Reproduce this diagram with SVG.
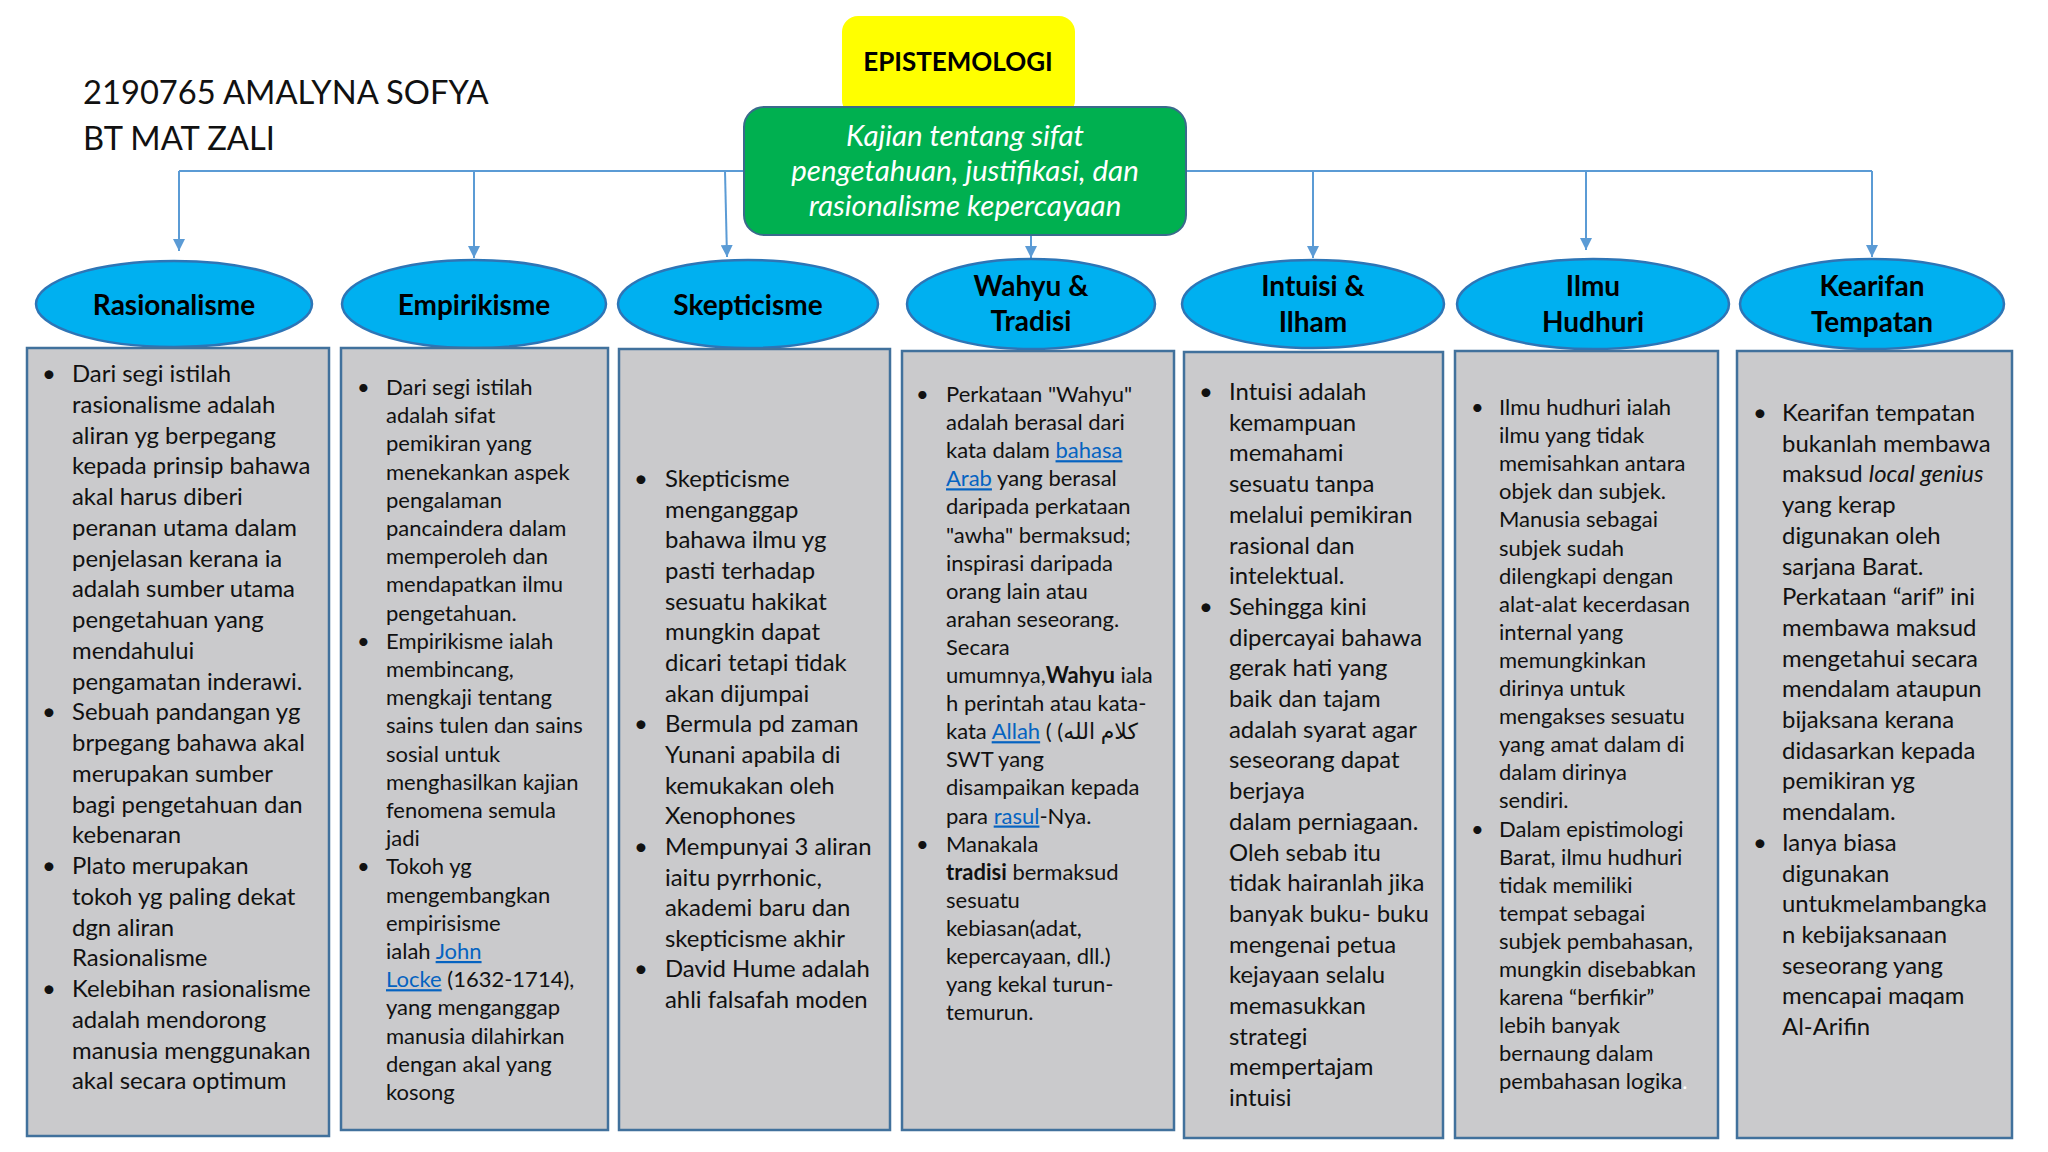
<svg xmlns="http://www.w3.org/2000/svg" width="2048" height="1152" viewBox="0 0 2048 1152">
<defs>
<style>
.t{font-family:Lato,"Liberation Sans","DejaVu Sans",sans-serif;fill:#111;}
.big{font-size:23.9px;}
.sm{font-size:22px;}
.lbl{font-family:Lato,"Liberation Sans",sans-serif;font-weight:bold;font-size:28px;fill:#000;text-anchor:middle;}
.ell{fill:#00B0F0;stroke:#2E75B6;stroke-width:2.5;}
.box{fill:#CACACC;stroke:#41719C;stroke-width:2.5;}
.lnk{fill:#0563C1;text-decoration:underline;}
.con{stroke:#5B9BD5;stroke-width:2;fill:none;}
</style>
<marker id="arr" viewBox="0 0 12 12" refX="12" refY="6" markerWidth="12" markerHeight="12" orient="auto" markerUnits="userSpaceOnUse"><path d="M0,0 L12,6 L0,12 z" fill="#5B9BD5"/></marker>
</defs>
<rect width="2048" height="1152" fill="#FFFFFF"/>

<g id="title">
<text class="t" font-size="32.7" fill="#1a1a1a"><tspan x="83" y="104">2190765 AMALYNA SOFYA</tspan><tspan x="83" y="150">BT MAT ZALI</tspan></text>
</g>

<g id="connectors">
<line class="con" x1="179" y1="171" x2="1872" y2="171"/>
<line class="con" x1="179" y1="171" x2="179" y2="251" marker-end="url(#arr)"/>
<line class="con" x1="474" y1="171" x2="474" y2="258" marker-end="url(#arr)"/>
<line class="con" x1="725" y1="171" x2="727" y2="257" marker-end="url(#arr)"/>
<line class="con" x1="1031" y1="235" x2="1031" y2="258" marker-end="url(#arr)"/>
<line class="con" x1="1313" y1="171" x2="1313" y2="258" marker-end="url(#arr)"/>
<line class="con" x1="1586" y1="171" x2="1586" y2="250" marker-end="url(#arr)"/>
<line class="con" x1="1872" y1="171" x2="1872" y2="257" marker-end="url(#arr)"/>
</g>

<g id="epistemologi">
<rect x="842" y="16" width="233" height="100" rx="16" fill="#FFFF00"/>
<text x="958" y="71" font-family="Lato,'Liberation Sans',sans-serif" font-weight="bold" font-size="26" text-anchor="middle" fill="#000">EPISTEMOLOGI</text>
</g>

<g id="definisi">
<rect x="744" y="107" width="442" height="128" rx="20" fill="#00B050" stroke="#3A6A8C" stroke-width="2"/>
<text font-family="Lato,'Liberation Sans',sans-serif" font-style="italic" font-size="29.5" fill="#FFFFFF" text-anchor="middle"><tspan x="965" y="146">Kajian tentang sifat</tspan><tspan x="965" y="181">pengetahuan, justifikasi, dan</tspan><tspan x="965" y="216">rasionalisme kepercayaan</tspan></text>
</g>

<g id="rasionalisme">
<ellipse class="ell" cx="174" cy="304" rx="138" ry="43"/>
<text class="lbl" x="174" y="315">Rasionalisme</text>
<rect class="box" x="27" y="348" width="302" height="788"/>
<text class="t big"><tspan x="42" y="382">•</tspan><tspan x="42" y="720.3">•</tspan><tspan x="42" y="874">•</tspan><tspan x="42" y="997">•</tspan></text>
<text class="t big"><tspan x="72" y="382">Dari segi istilah</tspan><tspan x="72" y="412.8">rasionalisme adalah</tspan><tspan x="72" y="443.5">aliran yg berpegang</tspan><tspan x="72" y="474.3">kepada prinsip bahawa</tspan><tspan x="72" y="505">akal harus diberi</tspan><tspan x="72" y="535.8">peranan utama dalam</tspan><tspan x="72" y="566.5">penjelasan kerana ia</tspan><tspan x="72" y="597.3">adalah sumber utama</tspan><tspan x="72" y="628">pengetahuan yang</tspan><tspan x="72" y="658.8">mendahului</tspan><tspan x="72" y="689.5">pengamatan inderawi.</tspan><tspan x="72" y="720.3">Sebuah pandangan yg</tspan><tspan x="72" y="751">brpegang bahawa akal</tspan><tspan x="72" y="781.8">merupakan sumber</tspan><tspan x="72" y="812.5">bagi pengetahuan dan</tspan><tspan x="72" y="843.3">kebenaran</tspan><tspan x="72" y="874">Plato merupakan</tspan><tspan x="72" y="904.8">tokoh yg paling dekat</tspan><tspan x="72" y="935.5">dgn aliran</tspan><tspan x="72" y="966.3">Rasionalisme</tspan><tspan x="72" y="997">Kelebihan rasionalisme</tspan><tspan x="72" y="1027.8">adalah mendorong</tspan><tspan x="72" y="1058.5">manusia menggunakan</tspan><tspan x="72" y="1089.3">akal secara optimum</tspan></text>
</g>

<g id="empirikisme">
<ellipse class="ell" cx="474" cy="304" rx="132" ry="44"/>
<text class="lbl" x="474" y="315">Empirikisme</text>
<rect class="box" x="341" y="348" width="267" height="782"/>
<text class="t sm"><tspan x="357" y="395">•</tspan><tspan x="357" y="648.8">•</tspan><tspan x="357" y="874.4">•</tspan></text>
<text class="t sm"><tspan x="386" y="395">Dari segi istilah</tspan><tspan x="386" y="423.2">adalah sifat</tspan><tspan x="386" y="451.4">pemikiran yang</tspan><tspan x="386" y="479.6">menekankan aspek</tspan><tspan x="386" y="507.8">pengalaman</tspan><tspan x="386" y="536">pancaindera dalam</tspan><tspan x="386" y="564.2">memperoleh dan</tspan><tspan x="386" y="592.4">mendapatkan ilmu</tspan><tspan x="386" y="620.6">pengetahuan.</tspan><tspan x="386" y="648.8">Empirikisme ialah</tspan><tspan x="386" y="677">membincang,</tspan><tspan x="386" y="705.2">mengkaji tentang</tspan><tspan x="386" y="733.4">sains tulen dan sains</tspan><tspan x="386" y="761.6">sosial untuk</tspan><tspan x="386" y="789.8">menghasilkan kajian</tspan><tspan x="386" y="818">fenomena semula</tspan><tspan x="386" y="846.2">jadi</tspan><tspan x="386" y="874.4">Tokoh yg</tspan><tspan x="386" y="902.6">mengembangkan</tspan><tspan x="386" y="930.8">empirisisme</tspan><tspan x="386" y="959">ialah <tspan class="lnk">John</tspan></tspan><tspan x="386" y="987.2"><tspan class="lnk">Locke</tspan> (1632-1714),</tspan><tspan x="386" y="1015.4">yang menganggap</tspan><tspan x="386" y="1043.6">manusia dilahirkan</tspan><tspan x="386" y="1071.8">dengan akal yang</tspan><tspan x="386" y="1100">kosong</tspan></text>
</g>

<g id="skepticisme">
<ellipse class="ell" cx="748" cy="304" rx="130" ry="44"/>
<text class="lbl" x="748" y="315">Skepticisme</text>
<rect class="box" x="619" y="349" width="271" height="781"/>
<text class="t big"><tspan x="634" y="487">•</tspan><tspan x="634" y="732.2">•</tspan><tspan x="634" y="854.8">•</tspan><tspan x="634" y="977.4">•</tspan></text>
<text class="t big"><tspan x="665" y="487">Skepticisme</tspan><tspan x="665" y="517.7">menganggap</tspan><tspan x="665" y="548.3">bahawa ilmu yg</tspan><tspan x="665" y="579">pasti terhadap</tspan><tspan x="665" y="609.6">sesuatu hakikat</tspan><tspan x="665" y="640.3">mungkin dapat</tspan><tspan x="665" y="670.9">dicari tetapi tidak</tspan><tspan x="665" y="701.6">akan dijumpai</tspan><tspan x="665" y="732.2">Bermula pd zaman</tspan><tspan x="665" y="762.9">Yunani apabila di</tspan><tspan x="665" y="793.5">kemukakan oleh</tspan><tspan x="665" y="824.2">Xenophones</tspan><tspan x="665" y="854.8">Mempunyai 3 aliran</tspan><tspan x="665" y="885.5">iaitu pyrrhonic,</tspan><tspan x="665" y="916.1">akademi baru dan</tspan><tspan x="665" y="946.8">skepticisme akhir</tspan><tspan x="665" y="977.4">David Hume adalah</tspan><tspan x="665" y="1008.1">ahli falsafah moden</tspan></text>
</g>

<g id="wahyu">
<ellipse class="ell" cx="1031" cy="304" rx="124" ry="45"/>
<text class="lbl"><tspan x="1031" y="296">Wahyu &amp;</tspan><tspan x="1031" y="331">Tradisi</tspan></text>
<rect class="box" x="902" y="351" width="272" height="779"/>
<text class="t sm"><tspan x="916" y="402">•</tspan><tspan x="916" y="851.6">•</tspan></text>
<text class="t sm"><tspan x="946" y="402">Perkataan "Wahyu"</tspan><tspan x="946" y="430.1">adalah berasal dari</tspan><tspan x="946" y="458.2">kata dalam <tspan class="lnk">bahasa</tspan></tspan><tspan x="946" y="486.3"><tspan class="lnk">Arab</tspan> yang berasal</tspan><tspan x="946" y="514.4">daripada perkataan</tspan><tspan x="946" y="542.5">"awha" bermaksud;</tspan><tspan x="946" y="570.6">inspirasi daripada</tspan><tspan x="946" y="598.7">orang lain atau</tspan><tspan x="946" y="626.8">arahan seseorang.</tspan><tspan x="946" y="654.9">Secara</tspan><tspan x="946" y="683">umumnya,<tspan font-weight="bold">Wahyu</tspan> iala</tspan><tspan x="946" y="711.1">h perintah atau kata-</tspan><tspan x="946" y="739.2">kata <tspan class="lnk">Allah</tspan> ( (كلام الله</tspan><tspan x="946" y="767.3">SWT yang</tspan><tspan x="946" y="795.4">disampaikan kepada</tspan><tspan x="946" y="823.5">para <tspan class="lnk">rasul</tspan>-Nya.</tspan><tspan x="946" y="851.6">Manakala</tspan><tspan x="946" y="879.7"><tspan font-weight="bold">tradisi</tspan> bermaksud</tspan><tspan x="946" y="907.8">sesuatu</tspan><tspan x="946" y="935.9">kebiasan(adat,</tspan><tspan x="946" y="964">kepercayaan, dll.)</tspan><tspan x="946" y="992.1">yang kekal turun-</tspan><tspan x="946" y="1020.2">temurun.</tspan></text>
</g>

<g id="intuisi">
<ellipse class="ell" cx="1313" cy="304" rx="131" ry="44"/>
<text class="lbl"><tspan x="1313" y="296">Intuisi &amp;</tspan><tspan x="1313" y="332">Ilham</tspan></text>
<rect class="box" x="1184" y="352" width="259" height="786"/>
<text class="t big"><tspan x="1199" y="400">•</tspan><tspan x="1199" y="614.9">•</tspan></text>
<text class="t big"><tspan x="1229" y="400">Intuisi adalah</tspan><tspan x="1229" y="430.7">kemampuan</tspan><tspan x="1229" y="461.4">memahami</tspan><tspan x="1229" y="492.1">sesuatu tanpa</tspan><tspan x="1229" y="522.8">melalui pemikiran</tspan><tspan x="1229" y="553.5">rasional dan</tspan><tspan x="1229" y="584.2">intelektual.</tspan><tspan x="1229" y="614.9">Sehingga kini</tspan><tspan x="1229" y="645.6">dipercayai bahawa</tspan><tspan x="1229" y="676.3">gerak hati yang</tspan><tspan x="1229" y="707">baik dan tajam</tspan><tspan x="1229" y="737.7">adalah syarat agar</tspan><tspan x="1229" y="768.4">seseorang dapat</tspan><tspan x="1229" y="799.1">berjaya</tspan><tspan x="1229" y="829.8">dalam perniagaan.</tspan><tspan x="1229" y="860.5">Oleh sebab itu</tspan><tspan x="1229" y="891.2">tidak hairanlah jika</tspan><tspan x="1229" y="921.9">banyak buku- buku</tspan><tspan x="1229" y="952.6">mengenai petua</tspan><tspan x="1229" y="983.3">kejayaan selalu</tspan><tspan x="1229" y="1014">memasukkan</tspan><tspan x="1229" y="1044.7">strategi</tspan><tspan x="1229" y="1075.4">mempertajam</tspan><tspan x="1229" y="1106.1">intuisi</tspan></text>
</g>

<g id="ilmu-hudhuri">
<ellipse class="ell" cx="1593" cy="304" rx="136" ry="45"/>
<text class="lbl"><tspan x="1593" y="296">Ilmu</tspan><tspan x="1593" y="332">Hudhuri</tspan></text>
<rect class="box" x="1455" y="351" width="263" height="787"/>
<text class="t sm"><tspan x="1471" y="415">•</tspan><tspan x="1471" y="836.5">•</tspan></text>
<text class="t sm"><tspan x="1499" y="415">Ilmu hudhuri ialah</tspan><tspan x="1499" y="443.1">ilmu yang tidak</tspan><tspan x="1499" y="471.2">memisahkan antara</tspan><tspan x="1499" y="499.3">objek dan subjek.</tspan><tspan x="1499" y="527.4">Manusia sebagai</tspan><tspan x="1499" y="555.5">subjek sudah</tspan><tspan x="1499" y="583.6">dilengkapi dengan</tspan><tspan x="1499" y="611.7">alat-alat kecerdasan</tspan><tspan x="1499" y="639.8">internal yang</tspan><tspan x="1499" y="667.9">memungkinkan</tspan><tspan x="1499" y="696">dirinya untuk</tspan><tspan x="1499" y="724.1">mengakses sesuatu</tspan><tspan x="1499" y="752.2">yang amat dalam di</tspan><tspan x="1499" y="780.3">dalam dirinya</tspan><tspan x="1499" y="808.4">sendiri.</tspan><tspan x="1499" y="836.5">Dalam epistimologi</tspan><tspan x="1499" y="864.6">Barat, ilmu hudhuri</tspan><tspan x="1499" y="892.7">tidak memiliki</tspan><tspan x="1499" y="920.8">tempat sebagai</tspan><tspan x="1499" y="948.9">subjek pembahasan,</tspan><tspan x="1499" y="977">mungkin disebabkan</tspan><tspan x="1499" y="1005.1">karena “berfikir”</tspan><tspan x="1499" y="1033.2">lebih banyak</tspan><tspan x="1499" y="1061.3">bernaung dalam</tspan><tspan x="1499" y="1089.4">pembahasan logika<tspan fill="#FFFFFF">.</tspan></tspan></text>
</g>

<g id="kearifan-tempatan">
<ellipse class="ell" cx="1872" cy="304" rx="132" ry="45"/>
<text class="lbl"><tspan x="1872" y="296">Kearifan</tspan><tspan x="1872" y="332">Tempatan</tspan></text>
<rect class="box" x="1737" y="351" width="275" height="787"/>
<text class="t big"><tspan x="1753" y="421">•</tspan><tspan x="1753" y="850.8">•</tspan></text>
<text class="t big"><tspan x="1782" y="421">Kearifan tempatan</tspan><tspan x="1782" y="451.7">bukanlah membawa</tspan><tspan x="1782" y="482.4">maksud <tspan font-style="italic">local genius</tspan></tspan><tspan x="1782" y="513.1">yang kerap</tspan><tspan x="1782" y="543.8">digunakan oleh</tspan><tspan x="1782" y="574.5">sarjana Barat.</tspan><tspan x="1782" y="605.2">Perkataan “arif” ini</tspan><tspan x="1782" y="635.9">membawa maksud</tspan><tspan x="1782" y="666.6">mengetahui secara</tspan><tspan x="1782" y="697.3">mendalam ataupun</tspan><tspan x="1782" y="728">bijaksana kerana</tspan><tspan x="1782" y="758.7">didasarkan kepada</tspan><tspan x="1782" y="789.4">pemikiran yg</tspan><tspan x="1782" y="820.1">mendalam.</tspan><tspan x="1782" y="850.8">Ianya biasa</tspan><tspan x="1782" y="881.5">digunakan</tspan><tspan x="1782" y="912.2">untukmelambangka</tspan><tspan x="1782" y="942.9">n kebijaksanaan</tspan><tspan x="1782" y="973.6">seseorang yang</tspan><tspan x="1782" y="1004.3">mencapai maqam</tspan><tspan x="1782" y="1035">Al-Arifin</tspan></text>
</g>
</svg>
